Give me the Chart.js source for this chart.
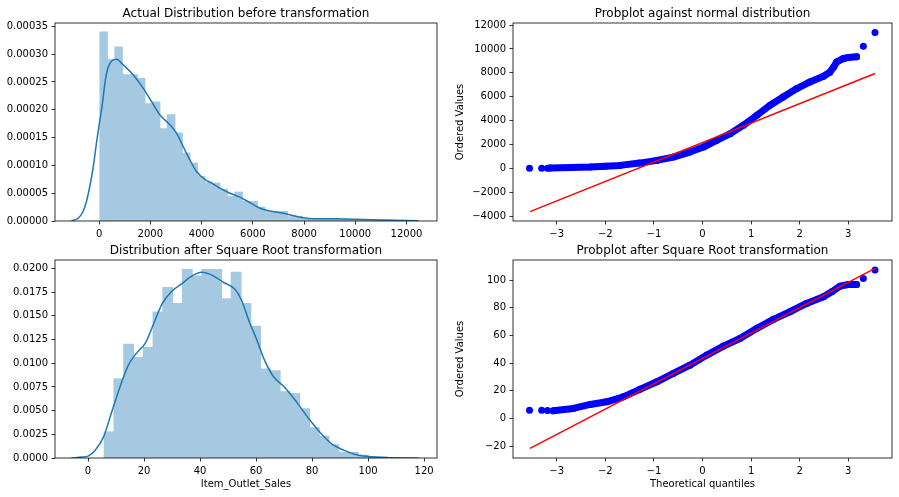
<!DOCTYPE html>
<html>
<head>
<meta charset="utf-8">
<script src="https://cdn.jsdelivr.net/npm/chart.js@4.4.1/dist/chart.umd.min.js"></script>
<style>
  body { margin: 0; background: #fff; width: 899px; height: 497px; position: relative; overflow: hidden; }
  canvas { position: absolute; }
</style>
</head>
<body>
<canvas id="c1" width="445" height="240" style="left:0;top:0"></canvas>
<canvas id="c2" width="454" height="240" style="left:445px;top:0"></canvas>
<canvas id="c3" width="445" height="257" style="left:0;top:240px"></canvas>
<canvas id="c4" width="454" height="257" style="left:445px;top:240px"></canvas>
<script>
"use strict";

// Item_Outlet_Sales: histogram (density) + kde
const salesBinStart = 33;
const salesBinWidth = 292.7;
const salesDensity = [0.000340, 0.000290, 0.000313, 0.000263, 0.000263, 0.000256, 0.000211, 0.000214,
  0.000166, 0.000191, 0.000158, 0.000122, 0.000104, 0.000080, 0.000069, 0.000068, 0.000057, 0.000044,
  0.000052, 0.000035, 0.000035, 0.000025, 0.000017, 0.000017, 0.000017, 0.0000077, 0.0000077, 0.000003,
  0.000003, 0.000003, 0.000004, 0.000004, 0.000003, 0.000002, 0.000002, 0.000002, 0.000002, 0.000002, 0.000002];
const salesKdeX = [-1078, -820, -625, -492, -363, -234, -102, 0, 133, 250, 352, 500, 680, 938, 1328, 1719,
  2046, 2371, 2762, 3023, 3281, 3543, 3804, 4129, 4400, 4715, 5105, 5496, 5887, 6277, 6668, 7188, 7578,
  7969, 8360, 8750, 9272, 10000, 11000, 12476];
const salesKdeY = [0.0000005, 0.000005, 0.000017, 0.000035, 0.000062, 0.000095, 0.00014, 0.000172, 0.000212,
  0.000255, 0.000276, 0.000288, 0.000291, 0.000281, 0.000263, 0.000239, 0.000215, 0.000191, 0.000173,
  0.000158, 0.000134, 0.00011, 0.000089, 0.000075, 0.000068, 0.000059, 0.00005, 0.000043, 0.000033,
  0.000023, 0.000018, 0.000014, 0.0000096, 0.000006, 0.0000042, 0.0000042, 0.0000042, 0.000003, 0.000002, 0.0000005];

// sqrt(Item_Outlet_Sales): histogram + kde
const sqrtBinStart = 5.77;
const sqrtBinWidth = 3.49;
const sqrtDensity = [0.00275, 0.00835, 0.0120, 0.0106, 0.0117, 0.0154, 0.0180, 0.0163, 0.0199, 0.0192,
  0.0199, 0.0199, 0.0168, 0.0196, 0.0163, 0.0139, 0.0094, 0.0092, 0.0070, 0.0068, 0.0052, 0.0032,
  0.0023, 0.0014, 0.0006, 0.0006, 0.0003, 0.0001, 0.0001];
const sqrtKdeX = [-6, -2, 0, 2.5, 5.5, 8.5, 11.4, 14.4, 17.4, 20.4, 23.3, 26.3, 29.9, 33.5, 37.0, 40.6,
  44.2, 48.6, 52.5, 54.9, 57.3, 60.2, 63.2, 66.2, 70.4, 74.5, 78.7, 82.9, 87.0, 91.5, 95.4, 100.1, 106, 118];
const sqrtKdeY = [0.00001, 0.0001, 0.0002, 0.0008, 0.0022, 0.0049, 0.0075, 0.0098, 0.0111, 0.0121, 0.0141,
  0.0162, 0.0176, 0.0184, 0.0192, 0.0196, 0.0193, 0.0185, 0.0178, 0.0166, 0.0146, 0.0125, 0.0102, 0.0086,
  0.0074, 0.0059, 0.0042, 0.0027, 0.0015, 0.0008, 0.00037, 0.00016, 0.00005, 0];

// probplot raw sales
const qqQuantiles = [-3.14, -2.7, -2.31, -2.0, -1.70, -1.29, -0.94, -0.60, -0.26, 0.02, 0.29, 0.57, 0.84,
  1.12, 1.39, 1.66, 1.94, 2.21, 2.49, 2.62, 2.70, 2.76, 2.90, 3.0, 3.17];
const qqValues = [40, 90, 125, 190, 268, 460, 687, 963, 1382, 1801, 2362, 2920, 3618, 4455, 5293, 5991,
  6689, 7245, 7722, 8050, 8500, 8919, 9203, 9287, 9343];
const qqTailQuantiles = [-3.56, -3.31, -3.19, 3.31, 3.55];
const qqTailValues = [33, 33, 35, 10234, 11381];
const qqFitX = [-3.55, 3.55];
const qqFitY = [-3594, 7950];

// probplot sqrt sales
const sqrtQQQuantiles = [-3.07, -2.66, -2.31, -1.97, -1.63, -1.29, -0.94, -0.60, -0.26, 0.09, 0.43, 0.77,
  1.12, 1.46, 1.80, 2.14, 2.49, 2.66, 2.83, 3.0, 3.17];
const sqrtQQValues = [5.5, 7.2, 10.1, 12.0, 15.6, 21.0, 26.5, 32.5, 38.5, 45.8, 52.3, 57.8, 65.1, 71.6,
  77.1, 83.1, 87.9, 91.5, 95.6, 96.8, 96.8];
const sqrtQQTailQuantiles = [-3.56, -3.31, -3.19, 3.31, 3.55];
const sqrtQQTailValues = [6.0, 6.0, 5.7, 101.2, 107.2];
const sqrtFitX = [-3.55, 3.55];
const sqrtFitY = [-21.6, 108.4];

// tick labels
const salesTicksX = [0, 2000, 4000, 6000, 8000, 10000, 12000];
const salesTicksY = [0, 0.00005, 0.0001, 0.00015, 0.0002, 0.00025, 0.0003, 0.00035];
const sqrtTicksX = [0, 20, 40, 60, 80, 100, 120];
const sqrtTicksY = [0, 0.0025, 0.005, 0.0075, 0.01, 0.0125, 0.015, 0.0175, 0.02];
const qqTicksX = [-3, -2, -1, 0, 1, 2, 3];
const qqTicksY = [-4000, -2000, 0, 2000, 4000, 6000, 8000, 10000, 12000];
const sqrtQQTicksY = [-20, 0, 20, 40, 60, 80, 100];

Chart.defaults.font.family = "'DejaVu Sans', sans-serif";
Chart.defaults.color = "#000";

const HIST = "#a5c9e1";
const KDE = "#1f77b4";

const frame = {
  id: "frame",
  afterDatasetsDraw(chart) {
    const { ctx, chartArea: a } = chart;
    ctx.save();
    ctx.strokeStyle = "#000";
    ctx.lineWidth = 0.8;
    ctx.strokeRect(a.left, a.top, a.right - a.left, a.bottom - a.top);
    ctx.restore();
  }
};

const minus = v => String(v).replace("-", "\u2212");
const pts = (xs, ys) => xs.map((x, i) => ({ x: x, y: ys[i] }));
const bins = (start, w, d) => d.map((y, i) => ({ x: start + (i + 0.5) * w, y: y }));

function axis(c) {
  return {
    type: "linear",
    min: c.min, max: c.max,
    offset: false,
    afterBuildTicks: s => { s.ticks = c.ticks.map(v => ({ value: v })); },
    afterFit: s => { if (c.width !== undefined) s.width = c.width; if (c.height !== undefined) s.height = c.height; },
    grid: { display: true, offset: false, drawOnChartArea: false, drawTicks: true, tickLength: 3.5, tickWidth: 0.8, tickColor: "#000" },
    border: { display: false },
    ticks: { autoSkip: false, maxRotation: 0, padding: 3.5, font: { size: 10 }, color: "#000", callback: c.fmt },
    title: c.title ? { display: true, text: c.title, font: { size: 10 }, color: "#000", padding: c.titlePad } : { display: false }
  };
}

function opts(c) {
  return {
    responsive: false,
    animation: false,
    layout: { padding: { right: c.padRight } },
    plugins: {
      legend: { display: false },
      tooltip: { enabled: false },
      title: { display: true, fullSize: false, text: c.title, color: "#000", font: { size: 12, weight: "normal" }, padding: c.titlePad }
    },
    scales: { x: axis(c.x), y: axis(c.y) }
  };
}

new Chart(document.getElementById("c1"), {
  type: "bar",
  data: {
    datasets: [
      { type: "line", data: pts(salesKdeX, salesKdeY), borderColor: KDE, borderWidth: 1.5, pointRadius: 0, cubicInterpolationMode: "monotone", order: 0 },
      { type: "bar", data: bins(salesBinStart, salesBinWidth, salesDensity), backgroundColor: HIST, borderWidth: 0, inflateAmount: 0.5, barPercentage: 1, categoryPercentage: 1, order: 1 }
    ]
  },
  options: opts({
    title: "Actual Distribution before transformation", titlePad: { top: 6.5, bottom: 2.1 }, padRight: 8,
    x: { min: -1720, max: 13190, ticks: salesTicksX, height: 19, fmt: v => String(v) },
    y: { min: 0, max: 0.000356, ticks: salesTicksY, width: 55, fmt: v => v.toFixed(5) }
  }),
  plugins: [frame]
});

new Chart(document.getElementById("c2"), {
  type: "scatter",
  data: {
    datasets: [
      { type: "line", data: pts(qqFitX, qqFitY), borderColor: "#ff0000", borderWidth: 1.5, pointRadius: 0, order: 0 },
      { data: pts(qqQuantiles, qqValues), showLine: true, borderColor: "#0000ff", backgroundColor: "#0000ff", borderWidth: 7, borderCapStyle: "round", borderJoinStyle: "round", pointRadius: 3.5, pointBorderWidth: 0, order: 1 },
      { data: pts(qqTailQuantiles, qqTailValues), backgroundColor: "#0000ff", pointRadius: 3.5, pointBorderWidth: 0, order: 1 }
    ]
  },
  options: opts({
    title: "Probplot against normal distribution", titlePad: { top: 6.5, bottom: 2.1 }, padRight: 7,
    x: { min: -3.9, max: 3.9, ticks: qqTicksX, height: 19, fmt: v => minus(v) },
    y: { min: -4380, max: 12170, ticks: qqTicksY, width: 68, fmt: v => minus(v), title: "Ordered Values", titlePad: { top: 9.7, bottom: 0 } }
  }),
  plugins: [frame]
});

new Chart(document.getElementById("c3"), {
  type: "bar",
  data: {
    datasets: [
      { type: "line", data: pts(sqrtKdeX, sqrtKdeY), borderColor: KDE, borderWidth: 1.5, pointRadius: 0, cubicInterpolationMode: "monotone", order: 0 },
      { type: "bar", data: bins(sqrtBinStart, sqrtBinWidth, sqrtDensity), backgroundColor: HIST, borderWidth: 0, inflateAmount: 0.5, barPercentage: 1, categoryPercentage: 1, order: 1 }
    ]
  },
  options: opts({
    title: "Distribution after Square Root transformation", titlePad: { top: 3.5, bottom: 2.1 }, padRight: 8,
    x: { min: -11.8, max: 124.6, ticks: sqrtTicksX, height: 39, fmt: v => String(v), title: "Item_Outlet_Sales", titlePad: { top: 0, bottom: 6.5 } },
    y: { min: 0, max: 0.0209, ticks: sqrtTicksY, width: 55, fmt: v => v.toFixed(4) }
  }),
  plugins: [frame]
});

new Chart(document.getElementById("c4"), {
  type: "scatter",
  data: {
    datasets: [
      { type: "line", data: pts(sqrtFitX, sqrtFitY), borderColor: "#ff0000", borderWidth: 1.5, pointRadius: 0, order: 0 },
      { data: pts(sqrtQQQuantiles, sqrtQQValues), showLine: true, borderColor: "#0000ff", backgroundColor: "#0000ff", borderWidth: 7, borderCapStyle: "round", borderJoinStyle: "round", pointRadius: 3.5, pointBorderWidth: 0, order: 1 },
      { data: pts(sqrtQQTailQuantiles, sqrtQQTailValues), backgroundColor: "#0000ff", pointRadius: 3.5, pointBorderWidth: 0, order: 1 }
    ]
  },
  options: opts({
    title: "Probplot after Square Root transformation", titlePad: { top: 3.5, bottom: 2.1 }, padRight: 7,
    x: { min: -3.9, max: 3.9, ticks: qqTicksX, height: 39, fmt: v => minus(v), title: "Theoretical quantiles", titlePad: { top: 0, bottom: 6.5 } },
    y: { min: -28.6, max: 114.5, ticks: sqrtQQTicksY, width: 68, fmt: v => minus(v), title: "Ordered Values", titlePad: { top: 9.7, bottom: 0 } }
  }),
  plugins: [frame]
});
</script>
</body>
</html>
